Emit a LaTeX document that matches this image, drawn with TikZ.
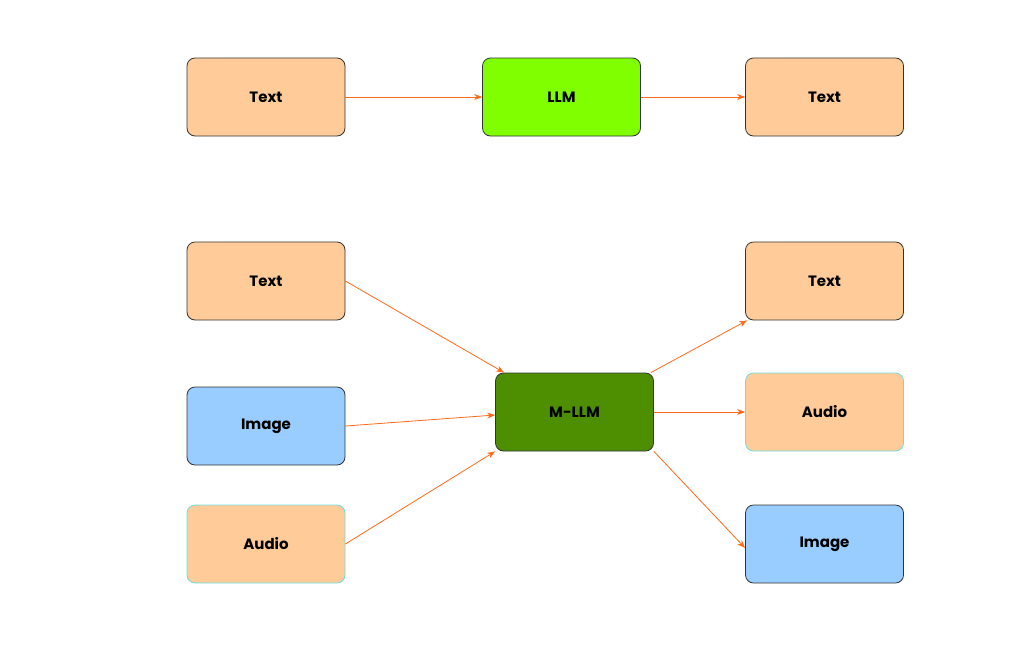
\documentclass[tikz,border=0pt]{standalone}
\usepackage{fontspec}
\setmainfont{Poppins}
\usetikzlibrary{arrows.meta}
\definecolor{peach}{HTML}{FFCC99}
\definecolor{sky}{HTML}{99CCFF}
\definecolor{lime}{HTML}{80FF00}
\definecolor{dgreen}{HTML}{4D8F00}
\definecolor{arr}{HTML}{FF6A1A}
\definecolor{cy}{HTML}{66E0E0}
\begin{document}
\begin{tikzpicture}[x=1pt,y=-1pt,
  box/.style={draw=black!80,rounded corners=8pt,minimum width=158pt,minimum height=78pt,font=\fontsize{15}{18}\selectfont\bfseries,line width=0.8pt},
  a/.style={draw=arr,line width=0.8pt,-{Stealth[length=8pt,width=6pt]}}]
\useasboundingbox (0,0) rectangle (1022,646);
\node[box,fill=peach] (t1) at (266,97) {Text};
\node[box,fill=lime] (llm) at (561.5,97) {LLM};
\node[box,fill=peach] (t2) at (824.5,97) {Text};
\node[box,fill=peach] (ti) at (266,281) {Text};
\node[box,fill=sky] (ii) at (266,426) {Image};
\node[box,fill=peach,draw=cy] (ai) at (266,544) {Audio};
\node[box,fill=dgreen] (m) at (574.5,412) {M-LLM};
\node[box,fill=peach] (to) at (824.5,281) {Text};
\node[box,fill=peach,draw=cy] (ao) at (824.5,412) {Audio};
\node[box,fill=sky] (io) at (824.5,544) {Image};
\draw[a] (t1.east) -- (llm.west);
\draw[a] (llm.east) -- (t2.west);
\draw[a] (ti.east) -- ([xshift=9pt]m.north west);
\draw[a] (ii.east) -- ([yshift=-3pt]m.west);
\draw[a] (ai.east) -- (m.south west);
\draw[a] ([xshift=-3pt]m.north east) -- ([xshift=2pt]to.south west);
\draw[a] (m.east) -- (ao.west);
\draw[a] (m.south east) -- ([yshift=-4pt]io.west);
\end{tikzpicture}
\end{document}
